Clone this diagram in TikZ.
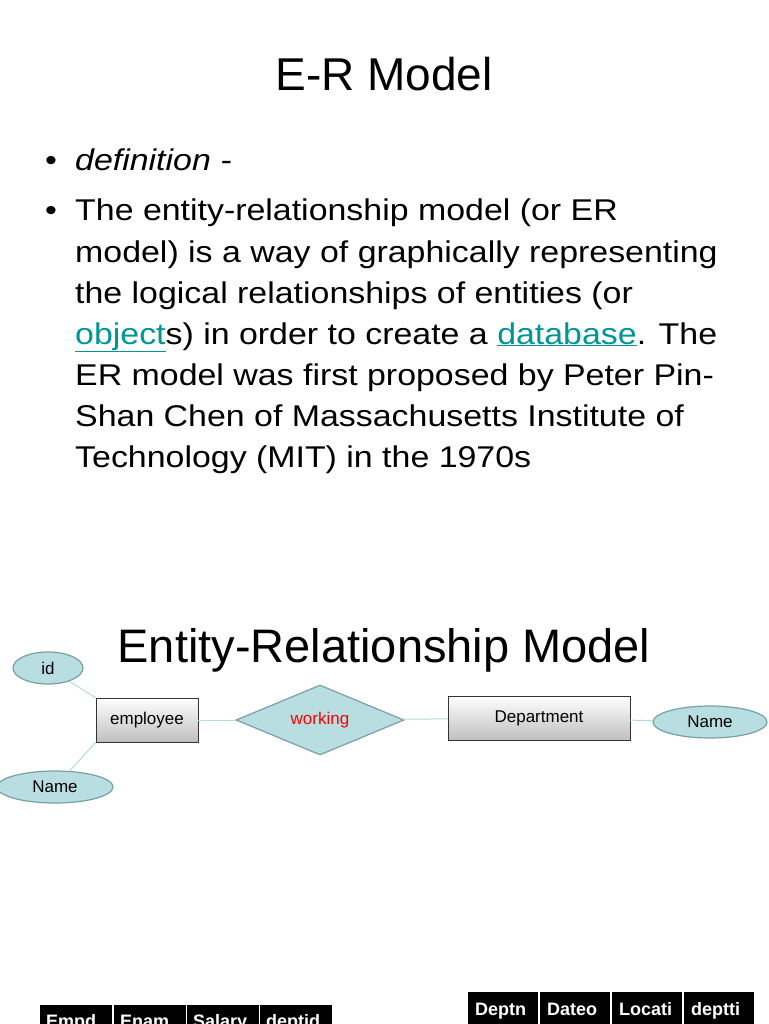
\documentclass[tikz,border=0pt]{standalone}
\usepackage{fontspec}
\setmainfont{Liberation Sans}
\newfontfamily\bodyf[FakeStretch=1.13]{Liberation Sans}
\usetikzlibrary{shapes.geometric}
\definecolor{lnk}{RGB}{0,150,150}
\definecolor{att}{RGB}{184,222,226}
\definecolor{attb}{RGB}{120,160,160}
\definecolor{conn}{RGB}{175,220,222}
\newcommand{\lk}[1]{\textcolor{lnk}{\underline{#1}}}
\begin{document}
\begin{tikzpicture}[x=1pt,y=-1pt,
 body/.style={anchor=base west,inner sep=0pt,font=\bodyf\fontsize{30}{36}\selectfont},
 attr/.style={ellipse,fill=att,draw=attb,line width=1.2pt,inner sep=0pt,font=\fontsize{17}{20}\selectfont},
 ent/.style={rectangle,draw=black!80,top color=white,bottom color=black!25,inner sep=0pt,font=\fontsize{17}{20}\selectfont},
 conline/.style={draw=conn,line width=1pt},
 cell/.style={rectangle,fill=black,anchor=north west,inner sep=0pt},
 th/.style={text=white,anchor=base west,inner sep=0pt,font=\bfseries\fontsize{18}{20}\selectfont}]
\useasboundingbox (0,0) rectangle (768,1024);
\clip (0,0) rectangle (768,1024);
\node[font=\fontsize{46}{50}\selectfont] (t1) at (384,74) {E-R Model};
\node[body] (b1) at (45,171) {•};
\node[body] (l1) at (75,171) {\itshape definition -};
\node[body] (b2) at (45,221) {•};
\node[body] (l2) at (75,221) {The entity-relationship model (or ER};
\node[body] (l3) at (75,262) {model) is a way of graphically representing};
\node[body] (l4) at (75,303) {the logical relationships of entities (or};
\node[body] (l5) at (75,344) {\lk{object}s) in order to create a \lk{database}. The};
\node[body] (l6) at (75,385) {ER model was first proposed by Peter Pin-};
\node[body] (l7) at (75,426) {Shan Chen of Massachusetts Institute of};
\node[body] (l8) at (75,467) {Technology (MIT) in the 1970s};
\node[font=\fontsize{47}{50}\selectfont] (t2) at (384,650) {Entity-Relationship Model};
\node[attr,minimum width=70,minimum height=32] (id) at (48,668) {id};
\node[ent,minimum width=102,minimum height=44] (emp) at (147,720) {employee};
\node[diamond,fill=att,draw=attb,line width=1.2pt,inner sep=0pt,minimum width=168,minimum height=70,aspect=2.4,text=red,font=\fontsize{17}{20}\selectfont] (work) at (320,720) {working};
\node[ent,minimum width=182,minimum height=44] (dep) at (539,718) {Department};
\node[attr,minimum width=114,minimum height=32] (n2) at (710,722) {Name};
\node[attr,minimum width=116,minimum height=32] (n1) at (55,787) {Name};
\draw[conline] (id) -- (emp.north west);
\draw[conline] (n1) -- (emp.south west);
\draw[conline] (emp) -- (work);
\draw[conline] (work) -- (dep);
\draw[conline] (dep) -- (n2);
\foreach \x/\t [count=\i] in {40/Empd,114/Enam,187/Salary,260/deptid}{
  \node[cell,minimum width=72,minimum height=40] (a\i) at (\x,1005) {};
  \node[th] (at\i) at (\x+6,1027) {\t};}
\foreach \x/\t [count=\i] in {468/Deptn,540/Dateo,612/Locati,684/deptti}{
  \node[cell,minimum width=70,minimum height=50] (c\i) at (\x,992) {};
  \node[th] (ct\i) at (\x+7,1015) {\t};}
\end{tikzpicture}
\end{document}
